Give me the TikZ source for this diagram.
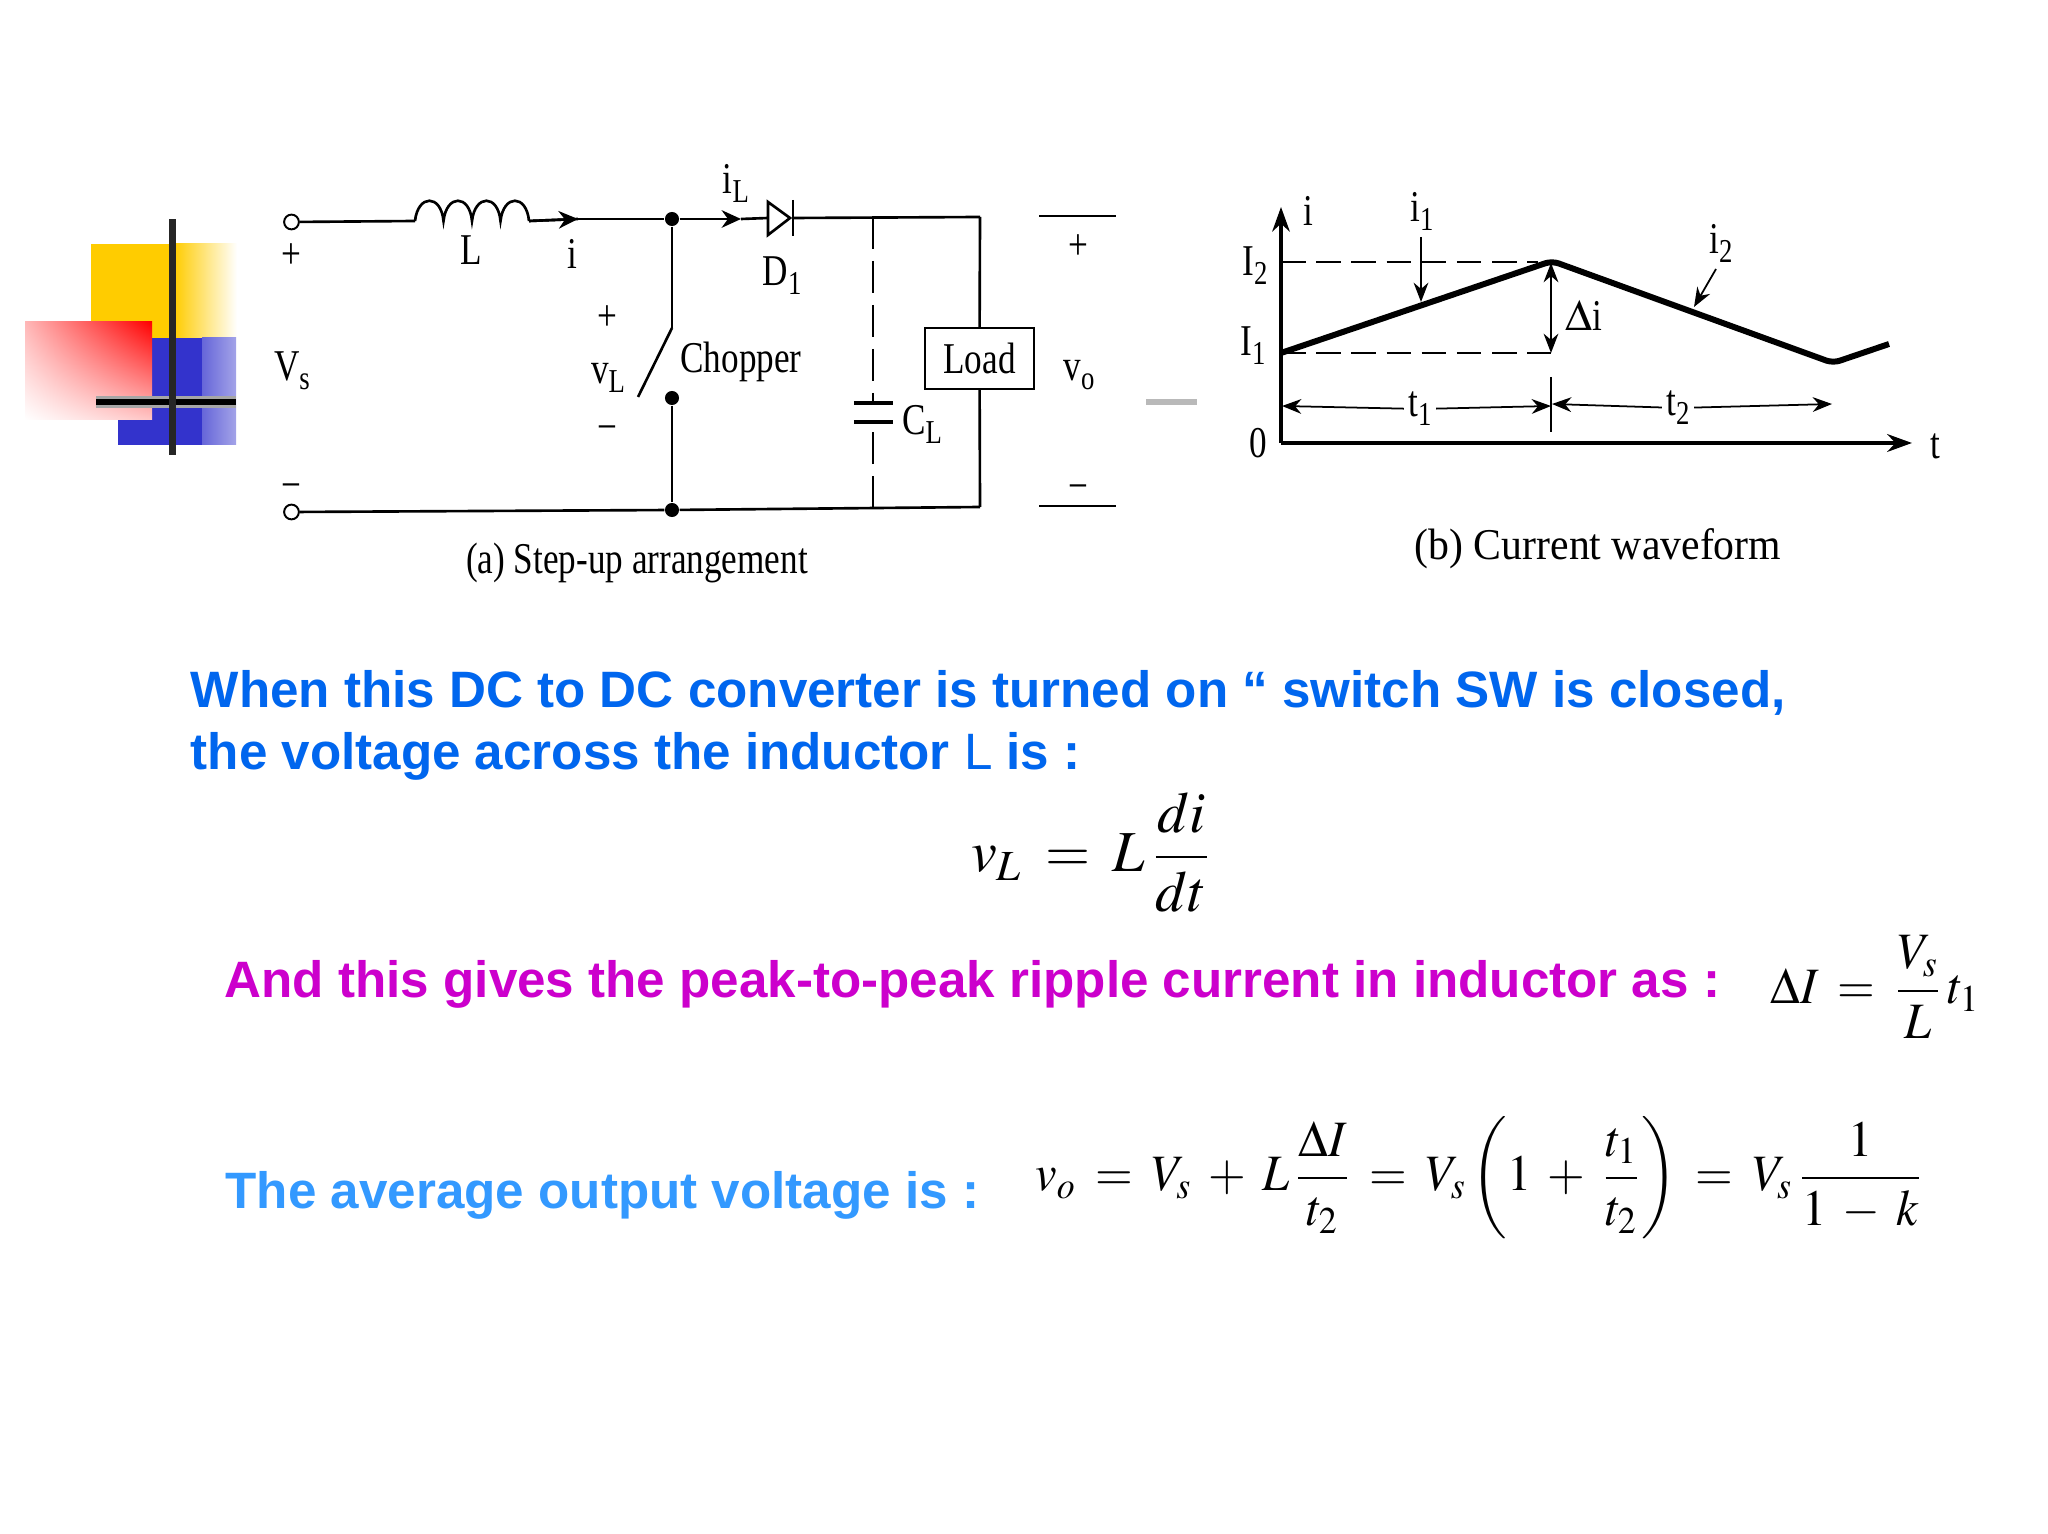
\documentclass[tikz,border=0pt]{standalone}
\usepackage{amsmath}
\usepackage{mathptmx}
\usepackage[no-math]{fontspec}
\setmainfont{Liberation Sans}
\newfontfamily\figfont[FakeStretch=0.8]{Liberation Serif}
\newfontfamily\wavefont[FakeStretch=0.95]{Liberation Serif}
\usetikzlibrary{arrows.meta,positioning,shadings}

\newcommand{\lowsub}[1]{\raisebox{-.45ex}{\fontsize{9.5}{10}\selectfont #1}}
\thickmuskip=7mu
\medmuskip=6mu
\definecolor{deckyellow}{HTML}{FFCC00}
\definecolor{deckblue}{HTML}{3333CC}
\definecolor{linewhen}{HTML}{0066EE}
\definecolor{linegain}{HTML}{CC00CC}
\definecolor{lineavg}{HTML}{3399FF}

\tikzset{
  wire/.style={line width=0.75pt,black},
  lab/.style={inner sep=0pt,font=\figfont\fontsize{12.5}{14}\selectfont},
  dot/.style={circle,fill=black,inner sep=0pt,minimum size=4pt},
  opendot/.style={circle,draw=black,fill=white,line width=0.55pt,inner sep=0pt,minimum size=4.2pt},
  tip/.style={-{Stealth[length=5.5pt,width=5pt]}},
  axtip/.style={-{Stealth[length=7pt,width=5pt]}},
  dimline/.style={line width=0.5pt,{Stealth[length=5.5pt,width=4.2pt]}-{Stealth[length=5.5pt,width=4.2pt]}},
  dimend/.style={line width=0.5pt,-{Stealth[length=5.5pt,width=4.2pt]}},
  dimstart/.style={line width=0.5pt,{Stealth[length=5.5pt,width=4.2pt]}-},
  headline/.style={anchor=base west,inner sep=0pt,font=\bfseries\fontsize{14.55}{17}\selectfont},
  eqn/.style={inner sep=0pt,transform shape},
}

\begin{document}
\begin{tikzpicture}[x=0.01cm,y=-0.01cm]
\useasboundingbox[fill=white] (0,0) rectangle (2048,1534);
% corner decoration
\fill[deckyellow] (91,244) rectangle (174,338);
\shade[left color=deckyellow,right color=white] (174,244) rectangle (237,338);
\fill[deckblue] (118,338) rectangle (202,445);
\shade[left color=deckblue!75!white,right color=deckblue!45!white] (202,338) rectangle (236,445);
\shade[upper right=red,upper left=red!28!white,lower right=red!22!white,lower left=white] (25,322) rectangle (152,420);
\fill[gray!70] (96,396) rectangle (236,408);
\fill[black] (96,399) rectangle (236,405);
\fill[black!85] (168.5,219) rectangle (175.5,455);

% step-up circuit
\node[opendot] (vsp) at (291.5,222) {};
\node[opendot] (vsn) at (291.5,512) {};
\node[dot] (jtop) at (672,219) {};
\node[dot] (jbot) at (672,510) {};
\node[dot] (cont) at (672,398) {};
\coordinate (coila) at (415,221);
\coordinate (coilb) at (529,221);
\coordinate (arrl) at (578,219);
\coordinate (arrd) at (741,219);
\coordinate (swtop) at (672,328);
\coordinate (swend) at (638,397);
\coordinate (da) at (768,202);
\coordinate (db) at (790,218);
\coordinate (dc) at (768,235);
\coordinate (dbar) at (793,218);
\coordinate (dbara) at (793,200);
\coordinate (dbarb) at (793,236);
\coordinate (ctop) at (873,217);
\coordinate (cbot) at (873,508);
\coordinate (rtop) at (980,217);
\coordinate (rbot) at (980,507);
\node[draw=black,line width=0.65pt,minimum width=10.85mm,minimum height=6.1mm,inner sep=0pt,font=\figfont\fontsize{12.5}{14}\selectfont] (load) at (979.5,358.5) {Load};
\draw[wire] (vsp) -- (coila);
\draw[wire] (coila)
  \foreach \k in {0,1,2,3} {
    .. controls +(3,-27) and +(-2.5,-27) .. ++(28.5,0)
  };
\draw[wire] (coilb) -- (arrl);
\draw[wire,tip] (coilb) -- (arrl);
\draw[wire] (arrl) -- (jtop);
\draw[wire,tip] (jtop) -- (arrd);
\draw[wire] (arrd) -- (da |- db);
\draw[wire,line join=miter] (da) -- (db) -- (dc) -- cycle;
\draw[wire] (dbara) -- (dbarb);
\draw[wire] (dbar) -- (rtop);
\draw[wire] (rtop) -- (load);
\draw[wire] (load) -- (rbot);
\draw[wire] (rbot) -- (jbot);
\draw[wire] (jbot) -- (vsn);
\draw[wire] (jtop) -- (swtop);
\draw[wire] (swtop) -- (swend);
\draw[wire] (cont) -- (jbot);
% dashed capacitor
\coordinate (plta) at (873,403);
\coordinate (pltb) at (873,422);
\draw[line width=0.5pt,dash pattern=on 9pt off 3.5pt] (ctop) -- (plta);
\draw[line width=0.5pt,dash pattern=on 9pt off 3.5pt] (cbot) -- (pltb);
\draw[line width=1.1pt] ([xshift=-0.19cm]plta) -- ([xshift=0.2cm]plta);
\draw[line width=1.1pt] ([xshift=-0.19cm]pltb) -- ([xshift=0.2cm]pltb);
\coordinate (voa) at (1039,216);
\coordinate (vob) at (1116,216);
\coordinate (voc) at (1039,506);
\coordinate (vod) at (1116,506);
\draw[wire] (voa) -- (vob);
\draw[wire] (voc) -- (vod);
\coordinate (dasha) at (1146,402);
\coordinate (dashb) at (1197,402);
\draw[gray!55,line width=1.5pt] (dasha) -- (dashb);

\node[lab] (vsplus) at (291,256) {+};
\node[lab] (vsminus) at (291,492) {−};
\node[lab] (vs) at (292,371) {V\lowsub{s}};
\node[lab] (ll) at (471,250) {L};
\node[lab] (cur) at (572,254) {i};
\node[lab] (vlplus) at (607,318) {+};
\node[lab] (vl) at (608,378) {v\lowsub{L}};
\node[lab] (vlminus) at (607,434) {−};
\node[lab] (chop) at (741,362) {Chopper};
\node[lab] (il) at (736,183) {i\lowsub{L}};
\node[lab] (d1) at (782,276) {D\lowsub{1}};
\node[lab] (cl) at (922,424) {C\lowsub{L}};
\node[lab] (voplus) at (1078,247) {+};
\node[lab] (vo) at (1079,375) {v\lowsub{o}};
\node[lab] (vominus) at (1078,493) {−};
\node[lab] (capa) at (637,563) {(a) Step-up arrangement};

% current waveform
\coordinate (org) at (1281,443);
\coordinate (ytop) at (1281,207);
\coordinate (xend) at (1912,443);
\coordinate (w0) at (1281,353);
\coordinate (w1) at (1552,261);
\coordinate (w2) at (1833,363);
\coordinate (w3) at (1889,344);
\coordinate (i2l) at (1281,262);
\coordinate (i2r) at (1538,262);
\coordinate (i1r) at (1551,353);
\coordinate (pk) at (1551,263);
\coordinate (i1top) at (1421,237);
\coordinate (i1low) at (1421,302);
\coordinate (i2top) at (1716,269);
\coordinate (i2low) at (1694,307);
\coordinate (ticka) at (1551,377);
\coordinate (tickb) at (1551,432);
\coordinate (ta) at (1282,406);
\coordinate (tb) at (1551,406);
\coordinate (tc) at (1552,404);
\coordinate (td) at (1832,404);
\draw[line width=1pt,axtip] (org) -- (ytop);
\draw[line width=1.3pt,axtip] (org) -- (xend);
\draw[line width=1.7pt,line join=round,rounded corners=2pt] (w0) -- (w1) -- (w2) -- (w3);
\draw[line width=0.6pt,dash pattern=on 7pt off 3pt] (i2l) -- (i2r);
\draw[line width=0.6pt,dash pattern=on 7pt off 3pt] (w0) -- (i1r);
\draw[dimline] (pk) -- (i1r);
\draw[dimend] (i1top) -- (i1low);
\draw[dimend] (i2top) -- (i2low);
\draw[line width=0.45pt] (ticka) -- (tickb);
\node[lab,inner sep=1.1pt] (t1) at (1420,409) {t\lowsub{1}};
\node[lab,inner sep=1.1pt] (t2) at (1678,408) {t\lowsub{2}};
\draw[dimstart] (ta) -- (t1);
\draw[dimend] (t1) -- (tb);
\draw[dimstart] (tc) -- (t2);
\draw[dimend] (t2) -- (td);
\node[lab] (yi) at (1308,211) {i};
\node[lab] (i1) at (1422,211) {i\lowsub{1}};
\node[lab] (i2) at (1721,243) {i\lowsub{2}};
\node[lab] (ii2) at (1255,266) {I\lowsub{2}};
\node[lab] (ii1) at (1253,346) {I\lowsub{1}};
\node[lab] (zero) at (1258,443) {0};
\node[lab] (di) at (1584,315) {$\Delta$i};
\node[lab] (xt) at (1935,446) {t};
\node[lab,font=\wavefont\fontsize{12.5}{14}\selectfont] (capb) at (1598,549) {(b) Current waveform};

% text lines and formulas
\node[headline,text=linewhen] (when) at (190,708) {When this DC to DC converter is turned on “ switch SW is closed,};
\node[headline,text=linewhen] (across) at (190,770) {the voltage across the inductor {\mdseries L} is :};
\node[headline,text=linegain] (gain) at (224,998) {And this gives the peak-to-peak ripple current in inductor as :};
\node[headline,text=lineavg] (avg) at (225,1208) {The average output voltage is :};
\node[eqn,font=\fontsize{16.5}{20}\selectfont] (eqvl) at (1091,852) {$v_L = L\,\dfrac{di}{dt}$};
\node[eqn,xscale=.95,font=\fontsize{14.5}{18}\selectfont] (eqdi) at (1875,987) {$\Delta I = \dfrac{V_s}{L}\,t_1$};
\node[eqn,xscale=.95,font=\fontsize{14.5}{18}\selectfont] (eqvo) at (1479,1178) {$v_o = V_s + L\,\dfrac{\Delta I}{t_2} = V_s\left(1 + \dfrac{t_1}{t_2}\right) = V_s\,\dfrac{1}{1-k}$};
\end{tikzpicture}
\end{document}
